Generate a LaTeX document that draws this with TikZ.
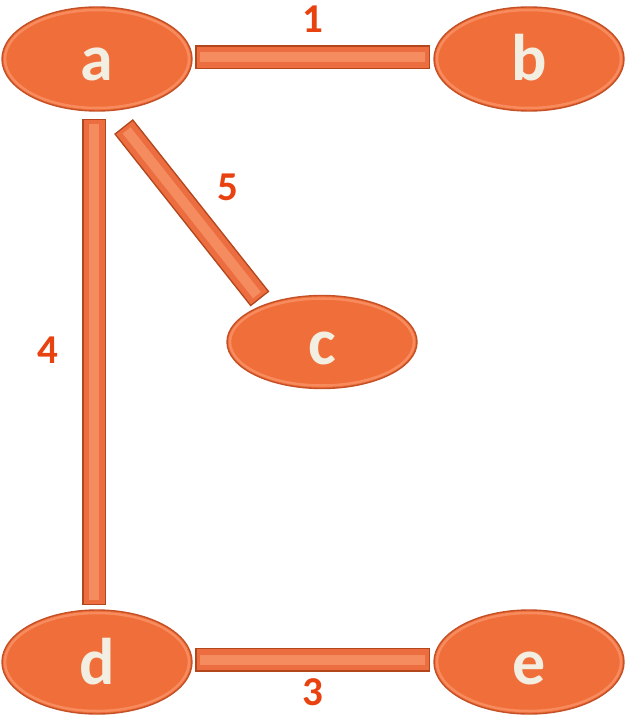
\documentclass[tikz,border=0pt]{standalone}
\usepackage{fontspec}
\setmainfont{Carlito}
\usetikzlibrary{shapes.geometric,calc}
\definecolor{nodefill}{RGB}{240,110,58}
\definecolor{nodeedge}{RGB}{196,80,38}
\definecolor{nodelight}{RGB}{250,152,108}
\definecolor{txt}{RGB}{243,238,226}
\definecolor{lab}{RGB}{232,66,16}
\definecolor{bardark}{RGB}{180,70,30}
\definecolor{barmid}{RGB}{236,110,64}
\definecolor{barlight}{RGB}{248,148,104}
\newcommand\edgebar[4]{%
  \draw[barout, shorten <=#3pt, shorten >=#4pt] #1 -- #2;
  \draw[barin, shorten <=#3pt+1.5pt, shorten >=#4pt+1.5pt] #1 -- #2;
  \draw[barhi, shorten <=#3pt+5pt, shorten >=#4pt+5pt] #1 -- #2;}
\begin{document}
\begin{tikzpicture}[x=1pt,y=-1pt,
  vert/.style={ellipse, draw=nodeedge, line width=1.4pt, fill=nodefill,
    minimum width=190pt, minimum height=104pt, inner sep=0pt, outer sep=0pt,
    font=\bfseries\fontsize{66}{66}\selectfont, text=txt,
    text height=44pt, text depth=0pt,
    path picture={\draw[nodelight, line width=2.5pt, opacity=0.7]
      (path picture bounding box.center) ellipse [x radius=92pt, y radius=-49pt];}},
  vertc/.style={vert, minimum height=93pt,
    path picture={\draw[nodelight, line width=2.5pt, opacity=0.7]
      (path picture bounding box.center) ellipse [x radius=92pt, y radius=-43.5pt];}},
  wlab/.style={font=\bfseries\fontsize{41}{41}\selectfont, text=lab, inner sep=0pt},
  barout/.style={bardark, line width=24pt},
  barin/.style={barmid, line width=21pt},
  barhi/.style={barlight, line width=10pt, opacity=0.8}]
\useasboundingbox (0,0) rectangle (631,722);
\node[vert] (a) at (97,59) {a};
\node[vert] (b) at (529,59) {b};
\node[vertc] (c) at (322,342) {c};
\node[vert] (d) at (97,662) {d};
\node[vert] (e) at (529,662) {e};
\edgebar{([yshift=1.5pt]a.east)}{([yshift=1.5pt]b.west)}{3}{4}
\edgebar{([xshift=-3pt]a.south)}{([xshift=-3pt]d.north)}{8}{5}
\edgebar{($(a.center)+(26.5,67.5)$)}{($(c.center)+(-62,-43)$)}{0}{0}
\edgebar{([yshift=2.5pt]d.east)}{([yshift=2.5pt]e.west)}{3}{4}
\node[wlab] (l1) at (313,19) {1};
\node[wlab] (l5) at (228,187) {5};
\node[wlab] (l4) at (48,350) {4};
\node[wlab] (l3) at (313,692) {3};
\end{tikzpicture}
\end{document}
